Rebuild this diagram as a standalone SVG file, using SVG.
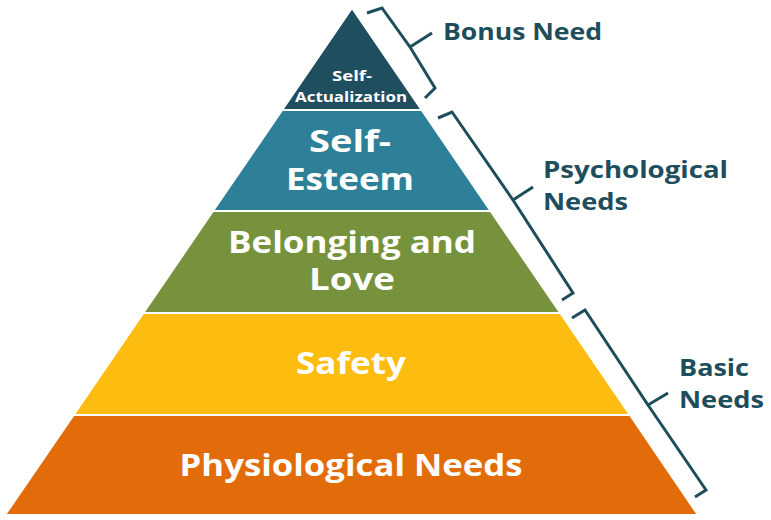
<svg xmlns="http://www.w3.org/2000/svg" width="771" height="520" viewBox="0 0 771 520">
<style>
.t{font-family:"Open Sans",Lato,sans-serif;font-weight:bold;fill:#fff;text-anchor:middle}
.l{font-family:"Open Sans",Lato,sans-serif;font-weight:bold;fill:#1e4d5c;font-size:24px}
.b{fill:none;stroke:#1e4d5c;stroke-width:3;stroke-linejoin:miter}
.s{stroke:#fff;stroke-width:2}
</style>
<rect width="771" height="520" fill="#fff"/>
<g id="self-actualization"><polygon class="s" points="352,8 421.7,110 282.2,110" fill="#1f4e5f"/>
<text class="t" font-size="14" x="352" y="81" textLength="40" lengthAdjust="spacingAndGlyphs">Self-</text><text class="t" font-size="14" x="351" y="102" textLength="112" lengthAdjust="spacingAndGlyphs">Actualization</text></g>
<g id="self-esteem"><polygon class="s" points="282.2,110 421.7,110 490.6,211 213,211" fill="#2e7f98"/>
<text class="t" font-size="30" x="350" y="152" textLength="82" lengthAdjust="spacingAndGlyphs">Self-</text><text class="t" font-size="30" x="350" y="190" textLength="128" lengthAdjust="spacingAndGlyphs">Esteem</text></g>
<g id="belonging"><polygon class="s" points="213,211 490.6,211 560.3,313 143.3,313" fill="#76923c"/>
<text class="t" font-size="30" x="352" y="253" textLength="248" lengthAdjust="spacingAndGlyphs">Belonging and</text><text class="t" font-size="30" x="352" y="290" textLength="86" lengthAdjust="spacingAndGlyphs">Love</text></g>
<g id="safety"><polygon class="s" points="143.3,313 560.3,313 630,415 73.6,415" fill="#fdbd10"/>
<text class="t" font-size="31" x="351" y="374" textLength="110" lengthAdjust="spacingAndGlyphs">Safety</text></g>
<g id="physiological"><polygon class="s" points="73.6,415 630,415 698,515 5,515" fill="#e36c0a"/>
<text class="t" font-size="31" x="351" y="476" textLength="343" lengthAdjust="spacingAndGlyphs">Physiological Needs</text></g>
<g id="connectors">
<path class="b" d="M367,13 L382,8 L410,47 L432,33 M410,47 L435,88 L425,98"/>
<path class="b" d="M438,118 L452,112 L513,200 L533,187 M513,200 L573,293 L562,300"/>
<path class="b" d="M572,318 L585,310 L648,405 L668,393 M648,405 L706,490 L695,497"/>
</g>
<g id="labels">
<text class="l" x="443" y="40" textLength="159" lengthAdjust="spacingAndGlyphs">Bonus Need</text>
<text class="l" x="543" y="178" textLength="185" lengthAdjust="spacingAndGlyphs">Psychological</text><text class="l" x="543" y="210" textLength="85" lengthAdjust="spacingAndGlyphs">Needs</text>
<text class="l" x="679" y="376" textLength="70" lengthAdjust="spacingAndGlyphs">Basic</text><text class="l" x="679" y="408" textLength="85" lengthAdjust="spacingAndGlyphs">Needs</text>
</g>
</svg>
